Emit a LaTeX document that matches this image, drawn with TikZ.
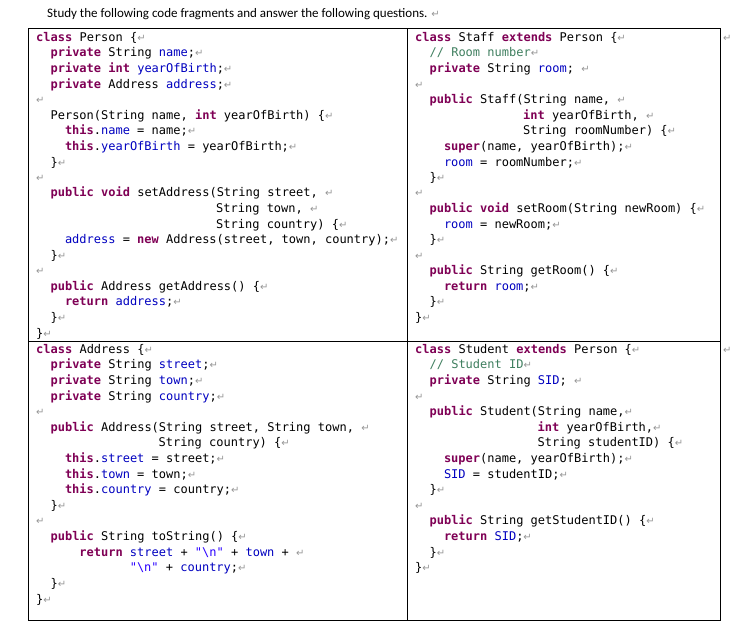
\documentclass[tikz,border=0pt]{standalone}
\usepackage{fontspec}
\setmainfont{Carlito}
\newfontfamily\cd{DejaVu Sans Mono}
\newfontfamily\symf{DejaVu Sans}
\definecolor{kwc}{RGB}{127,0,85}
\definecolor{fldc}{RGB}{0,0,192}
\definecolor{strc}{RGB}{42,0,255}
\definecolor{cmtc}{RGB}{63,127,95}
\definecolor{retc}{RGB}{150,150,150}
\newcommand\K[1]{{\bfseries\color{kwc}#1}}
\newcommand\F[1]{{\color{fldc}#1}}
\newcommand\Sx[1]{{\color{strc}#1}}
\newcommand\Cm[1]{{\color{cmtc}#1}}
\newcommand\R{{\symf\color{retc}\fontsize{10}{10}\selectfont ↵}}
\tikzset{code/.style={anchor=base west,inner sep=0pt,font=\cd\fontsize{12}{12}\selectfont}}
\newcommand\cl[4]{\node[code] at ({#1+#2*7.2},{#3+4}) {#4};}
\begin{document}
\begin{tikzpicture}[x=1pt,y=-1pt]
\useasboundingbox[fill=white] (0,0) rectangle (731,627);
\node[anchor=base west,inner sep=0pt,font=\fontsize{13}{13}\selectfont] (title) at (47,17) {Study the following code fragments and answer the following questions. \R};
\draw[line width=0.8pt] (28,28) rectangle (720,620);
\draw[line width=0.8pt] (407,28) -- (407,620);
\draw[line width=0.8pt] (28,341) -- (720,341);
% Person
\cl{36}{0}{37}{\K{class} Person \{\R}
\cl{36}{2}{52}{\K{private} String \F{name};\R}
\cl{36}{2}{68}{\K{private} \K{int} \F{yearOfBirth};\R}
\cl{36}{2}{84}{\K{private} Address \F{address};\R}
\cl{36}{0}{99}{\R}
\cl{36}{2}{115}{Person(String name, \K{int} yearOfBirth) \{\R}
\cl{36}{4}{130}{\K{this}.\F{name} = name;\R}
\cl{36}{4}{146}{\K{this}.\F{yearOfBirth} = yearOfBirth;\R}
\cl{36}{2}{162}{\}\R}
\cl{36}{0}{177}{\R}
\cl{36}{2}{192}{\K{public} \K{void} setAddress(String street, \R}
\cl{36}{25}{208}{String town, \R}
\cl{36}{25}{224}{String country) \{\R}
\cl{36}{4}{239}{\F{address} = \K{new} Address(street, town, country);\R}
\cl{36}{2}{255}{\}\R}
\cl{36}{0}{270}{\R}
\cl{36}{2}{286}{\K{public} Address getAddress() \{\R}
\cl{36}{4}{301}{\K{return} \F{address};\R}
\cl{36}{2}{317}{\}\R}
\cl{36}{0}{333}{\}\R}
% Staff
\cl{415}{0}{37}{\K{class} Staff \K{extends} Person \{\R}
\cl{415}{2}{52}{\Cm{// Room number}\R}
\cl{415}{2}{68}{\K{private} String \F{room}; \R}
\cl{415}{0}{84}{\R}
\cl{415}{2}{99}{\K{public} Staff(String name, \R}
\cl{415}{15}{115}{\K{int} yearOfBirth, \R}
\cl{415}{15}{130}{String roomNumber) \{\R}
\cl{415}{4}{146}{\K{super}(name, yearOfBirth);\R}
\cl{415}{4}{162}{\F{room} = roomNumber;\R}
\cl{415}{2}{177}{\}\R}
\cl{415}{0}{192}{\R}
\cl{415}{2}{208}{\K{public} \K{void} setRoom(String newRoom) \{\R}
\cl{415}{4}{224}{\F{room} = newRoom;\R}
\cl{415}{2}{239}{\}\R}
\cl{415}{0}{255}{\R}
\cl{415}{2}{270}{\K{public} String getRoom() \{\R}
\cl{415}{4}{286}{\K{return} \F{room};\R}
\cl{415}{2}{301}{\}\R}
\cl{415}{0}{317}{\}\R}
\cl{723}{0}{37}{\R}
% Address
\cl{36}{0}{349}{\K{class} Address \{\R}
\cl{36}{2}{364}{\K{private} String \F{street};\R}
\cl{36}{2}{380}{\K{private} String \F{town};\R}
\cl{36}{2}{396}{\K{private} String \F{country};\R}
\cl{36}{0}{411}{\R}
\cl{36}{2}{427}{\K{public} Address(String street, String town, \R}
\cl{36}{17}{442}{String country) \{\R}
\cl{36}{4}{458}{\K{this}.\F{street} = street;\R}
\cl{36}{4}{474}{\K{this}.\F{town} = town;\R}
\cl{36}{4}{489}{\K{this}.\F{country} = country;\R}
\cl{36}{2}{505}{\}\R}
\cl{36}{0}{520}{\R}
\cl{36}{2}{536}{\K{public} String toString() \{\R}
\cl{36}{6}{552}{\K{return} \F{street} + \Sx{"\textbackslash n"} + \F{town} + \R}
\cl{36}{13}{567}{\Sx{"\textbackslash n"} + \F{country};\R}
\cl{36}{2}{583}{\}\R}
\cl{36}{0}{599}{\}\R}
% Student
\cl{415}{0}{349}{\K{class} Student \K{extends} Person \{\R}
\cl{415}{2}{364}{\Cm{// Student ID}\R}
\cl{415}{2}{380}{\K{private} String \F{SID}; \R}
\cl{415}{0}{396}{\R}
\cl{415}{2}{411}{\K{public} Student(String name,\R}
\cl{415}{17}{427}{\K{int} yearOfBirth,\R}
\cl{415}{17}{442}{String studentID) \{\R}
\cl{415}{4}{458}{\K{super}(name, yearOfBirth);\R}
\cl{415}{4}{474}{\F{SID} = studentID;\R}
\cl{415}{2}{489}{\}\R}
\cl{415}{0}{505}{\R}
\cl{415}{2}{520}{\K{public} String getStudentID() \{\R}
\cl{415}{4}{536}{\K{return} \F{SID};\R}
\cl{415}{2}{552}{\}\R}
\cl{415}{0}{567}{\}\R}
\cl{723}{0}{349}{\R}
\end{tikzpicture}
\end{document}
